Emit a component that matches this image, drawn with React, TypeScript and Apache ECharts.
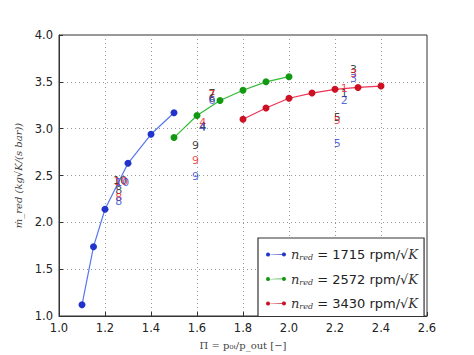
import React, { useEffect, useRef } from "react";
import * as echarts from "echarts";

const blueX = [1.1, 1.15, 1.2, 1.3, 1.4, 1.5];
const blueY = [1.12, 1.74, 2.14, 2.63, 2.94, 3.17];
const greenX = [1.5, 1.6, 1.7, 1.8, 1.9, 2.0];
const greenY = [2.905, 3.14, 3.3, 3.41, 3.5, 3.555];
const redX = [1.8, 1.9, 2.0, 2.1, 2.2, 2.3, 2.4];
const redY = [3.1, 3.22, 3.325, 3.38, 3.42, 3.44, 3.455];

const seriesNames = ["1715", "2572", "3430"];

// annotation labels: [x, y, text]
const blackLabels: [number, number, string][] = [
  [2.28, 3.63, "3"], [2.24, 3.38, "1"], [2.21, 3.12, "5"], [1.665, 3.38, "7"],
  [1.665, 3.32, "6"], [1.625, 3.02, "4"], [1.593, 2.82, "9"], [1.265, 2.45, "10"],
  [1.26, 2.34, "8"],
];
const redLabels: [number, number, string][] = [
  [2.28, 3.585, "3"], [2.24, 3.43, "1"], [2.21, 3.09, "5"], [1.665, 3.36, "7"],
  [1.625, 3.07, "4"], [1.593, 2.66, "9"], [1.27, 2.44, "10"], [1.26, 2.26, "8"],
];
const blueLabels: [number, number, string][] = [
  [2.28, 3.535, "3"], [2.24, 3.3, "2"], [2.21, 2.84, "5"], [1.665, 3.3, "6"],
  [1.625, 3.01, "4"], [1.593, 2.49, "9"], [1.275, 2.42, "10"], [1.26, 2.22, "8"],
];

const xTicks = { min: 1.0, max: 2.6, interval: 0.2 };
const yTicks = { min: 1.0, max: 4.0, interval: 0.5 };

const legendIcon =
  "path://M0,4 A4,4 0 1 1 8,4 L32,3.4 A4,4 0 1 1 32,4.6 L8,4.6 A4,4 0 0 1 0,4 Z";

export default function App() {
  const ref = useRef<HTMLDivElement>(null);
  useEffect(() => {
    if (!ref.current) return;
    const chart = echarts.init(ref.current, null, { renderer: "svg" });
    const pair = (xs: number[], ys: number[]) => xs.map((x, i) => [x, ys[i]]);
    const lineSeries = (name: string, xs: number[], ys: number[], mColor: string, lColor: string) => ({
      name,
      type: "line",
      data: pair(xs, ys),
      symbol: "circle",
      symbolSize: 7,
      itemStyle: { color: mColor },
      lineStyle: { color: lColor, width: 1.2 },
      z: 3,
    });
    const labelSeries = (labels: [number, number, string][], color: string) => ({
      type: "scatter",
      data: labels.map((l) => ({ value: [l[0], l[1]], name: l[2] })),
      symbolSize: 0,
      silent: true,
      label: {
        show: true,
        position: "inside",
        formatter: (p: any) => p.name,
        color,
        fontSize: 11,
        fontFamily: "DejaVu Sans",
      },
      z: 4,
    });
    const rich = {
      i: { fontFamily: "DejaVu Serif", fontStyle: "italic", fontSize: 13, color: "#333" },
      s: { fontFamily: "DejaVu Serif", fontStyle: "italic", fontSize: 8, color: "#333", verticalAlign: "bottom", padding: [6, 0, 0, 0] },
      t: { fontFamily: "DejaVu Sans", fontSize: 13, color: "#222" },
    };
    chart.setOption({
      animation: false,
      grid: { left: 59, right: 47, top: 35, bottom: 36, show: true, borderColor: "#333", borderWidth: 1 },
      xAxis: {
        type: "value",
        ...xTicks,
        name: "Π = p₀ₜ/p_out [−]",
        nameLocation: "middle",
        nameGap: 24,
        nameTextStyle: { fontFamily: "DejaVu Serif", fontSize: 10, color: "#444" },
        axisLine: { show: true, lineStyle: { color: "#333" } },
        axisTick: { inside: true, length: 4, lineStyle: { color: "#333" } },
        axisLabel: { fontFamily: "DejaVu Sans", fontSize: 11.5, color: "#222", formatter: (v: number) => v.toFixed(1), margin: 6 },
        splitLine: { show: true, lineStyle: { type: [1, 3], color: "#999" } },
      },
      yAxis: {
        type: "value",
        ...yTicks,
        name: "ṁ_red (kg√K/(s bar))",
        nameLocation: "middle",
        nameGap: 28,
        nameTextStyle: { fontFamily: "DejaVu Serif", fontStyle: "italic", fontSize: 10, color: "#444" },
        axisLine: { show: true, lineStyle: { color: "#333" } },
        axisTick: { inside: true, length: 4, lineStyle: { color: "#333" } },
        axisLabel: { fontFamily: "DejaVu Sans", fontSize: 11.5, color: "#222", formatter: (v: number) => v.toFixed(1), margin: 6 },
        splitLine: { show: true, lineStyle: { type: [1, 3], color: "#999" } },
      },
      legend: {
        data: seriesNames,
        orient: "vertical",
        left: 258,
        top: 238,
        width: 162,
        height: 75,
        padding: [10, 6, 6, 8],
        itemGap: 11,
        itemWidth: 20,
        itemHeight: 6,
        icon: legendIcon,
        backgroundColor: "#fff",
        borderColor: "#333",
        borderWidth: 1.2,
        borderRadius: 0,
        formatter: (name: string) => `{i|n}{s|red}{t| = ${name} rpm/√}{i|K}`,
        textStyle: { rich },
      },
      series: [
        lineSeries("1715", blueX, blueY, "#2233cc", "#5577ee"),
        lineSeries("2572", greenX, greenY, "#119911", "#33bb33"),
        lineSeries("3430", redX, redY, "#cc1122", "#ee3355"),
        labelSeries(blackLabels, "#111"),
        labelSeries(redLabels, "#ee2222"),
        labelSeries(blueLabels, "#2a3fd0"),
      ],
    });
    return () => chart.dispose();
  }, []);
  return <div ref={ref} style={{ width: 474, height: 355, position: "absolute", left: 0, top: 0 }} />;
}
